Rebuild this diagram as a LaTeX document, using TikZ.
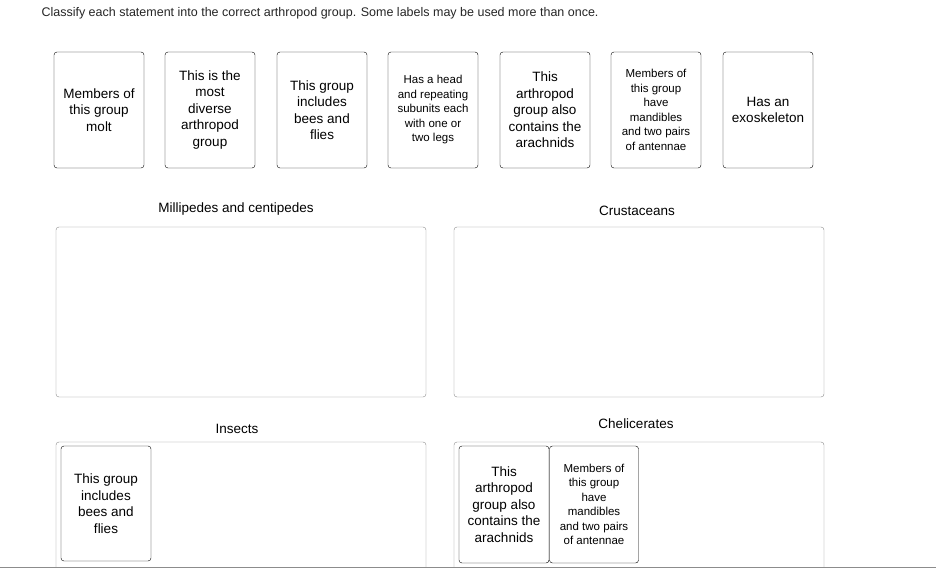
\documentclass[tikz,border=0pt]{standalone}
\usepackage{fontspec}
\setmainfont{Liberation Sans}
\begin{document}
\begin{tikzpicture}[x=1pt,y=-1pt,
 card/.style={draw=black,rounded corners=3pt,minimum width=90pt,minimum height=116pt,align=center,inner sep=1pt,font=\fontsize{13.5}{16.5}\selectfont},
 scard/.style={card,font=\fontsize{11.5}{14.5}\selectfont},
 zone/.style={draw=black!45,rounded corners=3pt,minimum width=370pt,minimum height=170pt},
 lab/.style={font=\fontsize{13.5}{16}\selectfont}]
\useasboundingbox[fill=white] (0,0) rectangle (936,569);
\node[anchor=west,font=\fontsize{12.5}{15}\selectfont,text=black!85] (title) at (38,13) {Classify each statement into the correct arthropod group. Some labels may be used more than once.};
\node[card] (c1) at (99,110) {Members of\\this group\\molt};
\node[card] (c2) at (210,110) {This is the\\most\\diverse\\arthropod\\group};
\node[card] (c3) at (322,110) {This group\\includes\\bees and\\flies};
\node[scard] (c4) at (433,110) {Has a head\\and repeating\\subunits each\\with one or\\two legs};
\node[card] (c5) at (545,110) {This\\arthropod\\group also\\contains the\\arachnids};
\node[scard] (c6) at (656,110) {Members of\\this group\\have\\mandibles\\and two pairs\\of antennae};
\node[card] (c7) at (768,110) {Has an\\exoskeleton};
\node[lab] (l1) at (236,209) {Millipedes and centipedes};
\node[lab] (l2) at (637,211) {Crustaceans};
\node[lab] (l3) at (237,429) {Insects};
\node[lab] (l4) at (636,424) {Chelicerates};
\node[zone] (z1) at (241,312) {};
\node[zone] (z2) at (639,312) {};
\node[zone,minimum height=140pt] (z3) at (241,512) {};
\node[zone,minimum height=140pt] (z4) at (639,512) {};
\fill[white] (0,567.5) rectangle (936,569);
\draw[black!45] (0,567.5) -- (936,567.5);
\node[card,minimum height=115pt] (i1) at (106,503.5) {This group\\includes\\bees and\\flies};
\node[card,minimum height=117pt] (h1) at (504,504.5) {This\\arthropod\\group also\\contains the\\arachnids};
\node[scard,minimum width=89pt,minimum height=117pt] (h2) at (594,504.5) {Members of\\this group\\have\\mandibles\\and two pairs\\of antennae};
\end{tikzpicture}
\end{document}
